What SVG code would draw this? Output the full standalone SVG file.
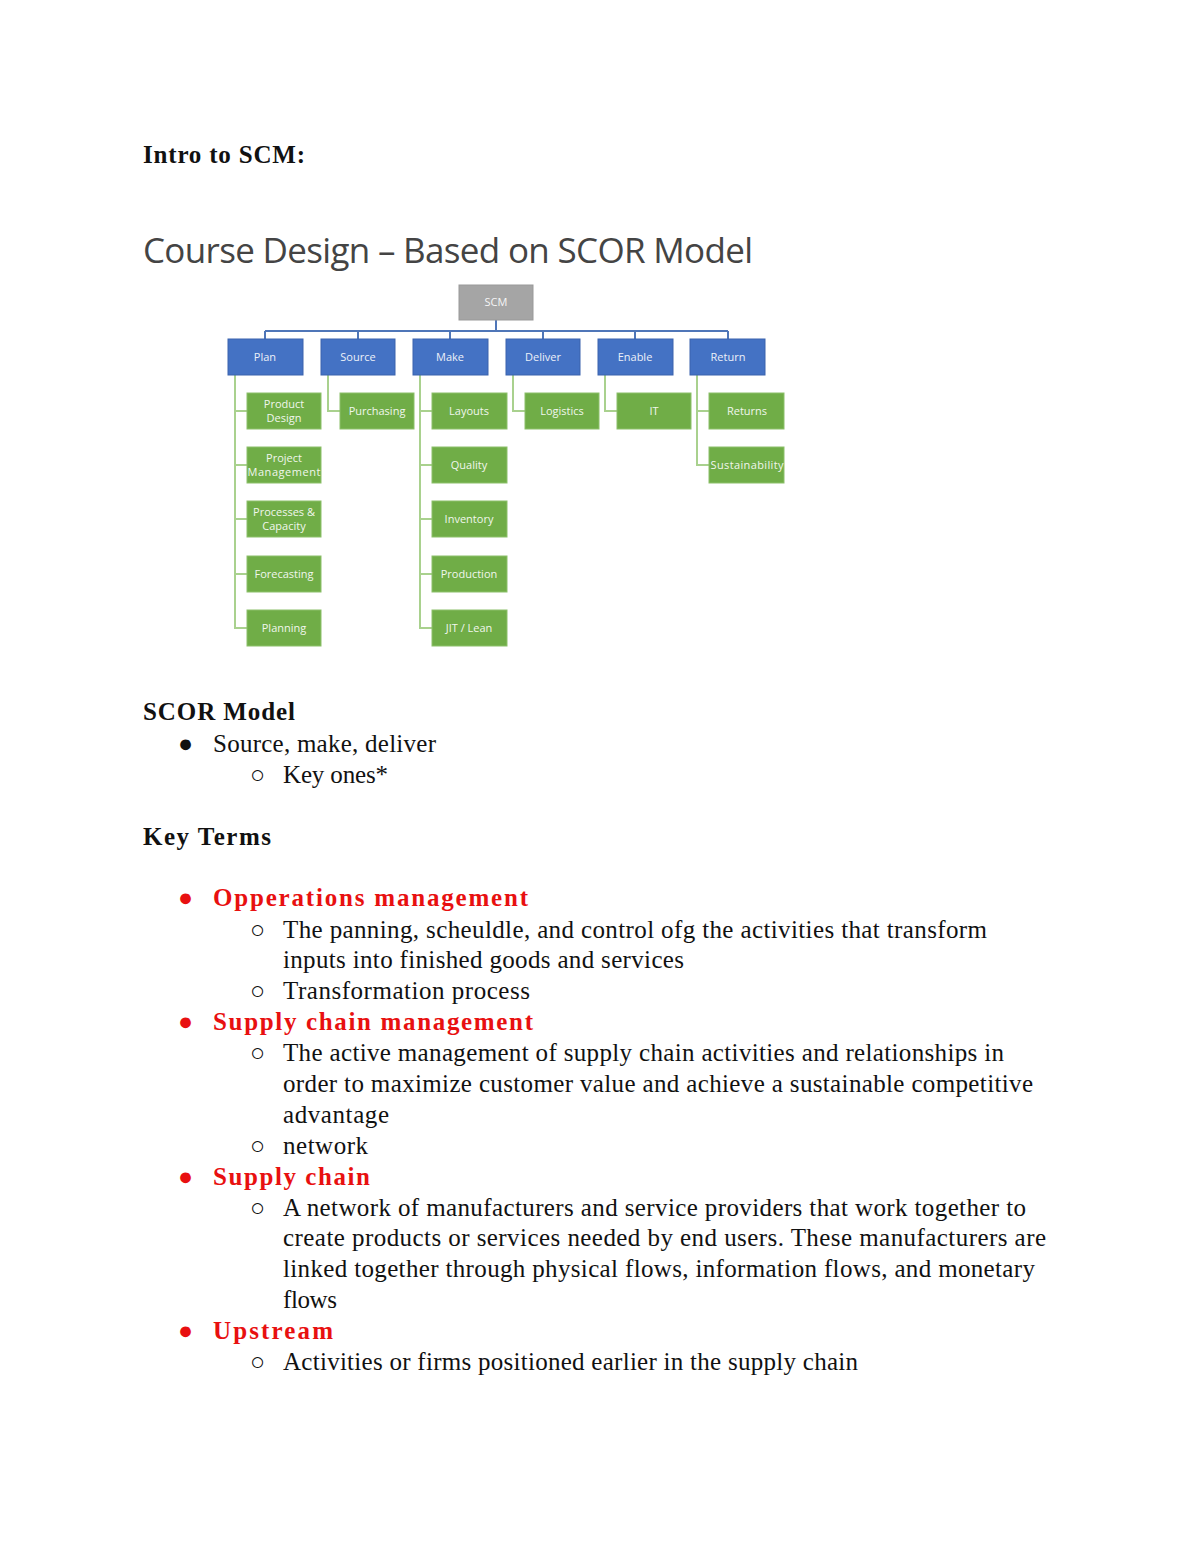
<svg xmlns="http://www.w3.org/2000/svg" width="1200" height="1553" viewBox="0 0 1200 1553">
<style>
.t{font-family:"Liberation Serif",serif;font-size:25px;fill:#111}
.b{font-weight:bold}
.r{fill:#e81010;font-weight:bold}
.blue{fill:#4472c4;stroke:#3a63ad;stroke-width:1}
.green{fill:#70ad47;stroke:#8cc06a;stroke-width:1}
.gray{fill:#a5a5a5;stroke:#999;stroke-width:1}
.nl{font-family:"Open Sans","Liberation Sans",sans-serif;font-size:11px;fill:#fff;text-anchor:middle;opacity:0.9}
.cb{fill:none;stroke:#4f76b8;stroke-width:2}
.cg{fill:none;stroke:#a9d18e;stroke-width:2}
</style>
<rect width="1200" height="1553" fill="#fff"/>
<text class="t b" x="143" y="163" textLength="162">Intro to SCM:</text>
<text x="143" y="263" font-family="'Open Sans','Liberation Sans',sans-serif" font-size="35" fill="#444" textLength="610">Course Design – Based on SCOR Model</text>
<g id="connectors">
<path class="cb" d="M496 320V331M265 331H728M265 331V339M358 331V339M450 331V339M543 331V339M635 331V339M728 331V339"/>
<path class="cg" d="M235 375V628H247M235 411H247M235 465H247M235 519H247M235 574H247"/>
<path class="cg" d="M328 375V411H340"/>
<path class="cg" d="M420 375V628H432M420 411H432M420 465H432M420 519H432M420 574H432"/>
<path class="cg" d="M513 375V411H525"/>
<path class="cg" d="M605 375V411H617"/>
<path class="cg" d="M697 375V465H709M697 411H709"/>
</g>
<g id="scm"><rect class="gray" x="459" y="285" width="74" height="35"/><text class="nl" x="496" y="306">SCM</text></g>
<g id="plan"><rect class="blue" x="228" y="339" width="75" height="36"/><text class="nl" x="265" y="361">Plan</text></g>
<g id="source"><rect class="blue" x="321" y="339" width="74" height="36"/><text class="nl" x="358" y="361">Source</text></g>
<g id="make"><rect class="blue" x="413" y="339" width="75" height="36"/><text class="nl" x="450" y="361">Make</text></g>
<g id="deliver"><rect class="blue" x="506" y="339" width="74" height="36"/><text class="nl" x="543" y="361">Deliver</text></g>
<g id="enable"><rect class="blue" x="598" y="339" width="75" height="36"/><text class="nl" x="635" y="361">Enable</text></g>
<g id="return"><rect class="blue" x="690" y="339" width="75" height="36"/><text class="nl" x="728" y="361">Return</text></g>
<g id="product-design"><rect class="green" x="247" y="393" width="74" height="36"/><text class="nl" x="284" y="408">Product</text><text class="nl" x="284" y="422">Design</text></g>
<g id="project-management"><rect class="green" x="247" y="447" width="74" height="36"/><text class="nl" x="284" y="462">Project</text><text class="nl" x="284" y="476" textLength="73">Management</text></g>
<g id="processes-capacity"><rect class="green" x="247" y="501" width="74" height="36"/><text class="nl" x="284" y="516">Processes &amp;</text><text class="nl" x="284" y="530">Capacity</text></g>
<g id="forecasting"><rect class="green" x="247" y="556" width="74" height="36"/><text class="nl" x="284" y="578">Forecasting</text></g>
<g id="planning"><rect class="green" x="247" y="610" width="74" height="36"/><text class="nl" x="284" y="632">Planning</text></g>
<g id="purchasing"><rect class="green" x="340" y="393" width="74" height="36"/><text class="nl" x="377" y="415">Purchasing</text></g>
<g id="layouts"><rect class="green" x="432" y="393" width="75" height="36"/><text class="nl" x="469" y="415">Layouts</text></g>
<g id="quality"><rect class="green" x="432" y="447" width="75" height="36"/><text class="nl" x="469" y="469">Quality</text></g>
<g id="inventory"><rect class="green" x="432" y="501" width="75" height="36"/><text class="nl" x="469" y="523">Inventory</text></g>
<g id="production"><rect class="green" x="432" y="556" width="75" height="36"/><text class="nl" x="469" y="578">Production</text></g>
<g id="jit-lean"><rect class="green" x="432" y="610" width="75" height="36"/><text class="nl" x="469" y="632">JIT / Lean</text></g>
<g id="logistics"><rect class="green" x="525" y="393" width="74" height="36"/><text class="nl" x="562" y="415">Logistics</text></g>
<g id="it"><rect class="green" x="617" y="393" width="74" height="36"/><text class="nl" x="654" y="415">IT</text></g>
<g id="returns"><rect class="green" x="709" y="393" width="75" height="36"/><text class="nl" x="747" y="415">Returns</text></g>
<g id="sustainability"><rect class="green" x="709" y="447" width="75" height="36"/><text class="nl" x="747" y="469" textLength="73">Sustainability</text></g>

<text class="t b" x="143" y="720" textLength="152">SCOR Model</text>
<text class="t" x="178" y="752">●</text><text class="t" x="213" y="752" textLength="223">Source, make, deliver</text>
<text class="t" x="250" y="783">○</text><text class="t" x="283" y="783" textLength="105">Key ones*</text>
<text class="t b" x="143" y="845" textLength="128">Key Terms</text>

<text class="t" x="178" y="906" style="fill:#e81010">●</text><text class="t r" x="213" y="906" textLength="315">Opperations management</text>
<text class="t" x="250" y="938">○</text><text class="t" x="283" y="938" textLength="704">The panning, scheuldle, and control ofg the activities that transform</text>
<text class="t" x="283" y="968" textLength="401">inputs into finished goods and services</text>
<text class="t" x="250" y="999">○</text><text class="t" x="283" y="999" textLength="247">Transformation process</text>

<text class="t" x="178" y="1030" style="fill:#e81010">●</text><text class="t r" x="213" y="1030" textLength="320">Supply chain management</text>
<text class="t" x="250" y="1061">○</text><text class="t" x="283" y="1061" textLength="721">The active management of supply chain activities and relationships in</text>
<text class="t" x="283" y="1092" textLength="750">order to maximize customer value and achieve a sustainable competitive</text>
<text class="t" x="283" y="1123" textLength="106">advantage</text>
<text class="t" x="250" y="1154">○</text><text class="t" x="283" y="1154" textLength="85">network</text>

<text class="t" x="178" y="1185" style="fill:#e81010">●</text><text class="t r" x="213" y="1185" textLength="157">Supply chain</text>
<text class="t" x="250" y="1216">○</text><text class="t" x="283" y="1216" textLength="743">A network of manufacturers and service providers that work together to</text>
<text class="t" x="283" y="1246" textLength="763">create products or services needed by end users. These manufacturers are</text>
<text class="t" x="283" y="1277" textLength="752">linked together through physical flows, information flows, and monetary</text>
<text class="t" x="283" y="1308" textLength="54">flows</text>

<text class="t" x="178" y="1339" style="fill:#e81010">●</text><text class="t r" x="213" y="1339" textLength="120">Upstream</text>
<text class="t" x="250" y="1370">○</text><text class="t" x="283" y="1370" textLength="575">Activities or firms positioned earlier in the supply chain</text>
</svg>
